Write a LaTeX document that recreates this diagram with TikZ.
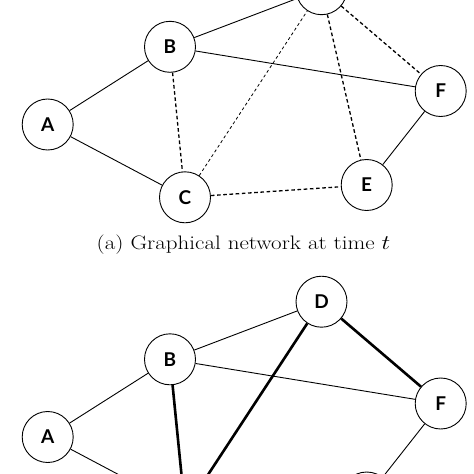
\documentclass[tikz,border=0pt]{standalone}
\usepackage{graphicx}
\usepackage{fontspec}
\setmainfont{Latin Modern Roman}
\newfontfamily\labelfont{Lato}
\begin{document}
\begin{tikzpicture}[x=1pt,y=1pt,yscale=-1,xscale=1,
	vertex/.style={draw,circle,line width=0.9,minimum size=51,inner sep=0,font=\labelfont\bfseries\fontsize{19}{19}\selectfont},
	link/.style={line width=0.9},
	hot/.style={line width=2.6},
	gone/.style={line width=1.3,dash pattern={on 3.6pt off 2.6pt}},
	faint/.style={line width=0.8,dash pattern={on 3pt off 2.6pt}}]
	\useasboundingbox (0,0) rectangle (474,474);
	\clip (0,0) rectangle (474,474);
	
	%Graph at time t
	\node [vertex] (a1) at (47.7,124.5) {A};
	\node [vertex] (b1) at (170,46.8) {B};
	\node [vertex] (c1) at (185,197.3) {C};
	\node [vertex] (d1) at (321.5,-10.8) {D};
	\node [vertex] (e1) at (366.7,185) {E};
	\node [vertex] (f1) at (440.7,91) {F};
	\draw [link] (a1) -- (b1);
	\draw [link] (a1) -- (c1);
	\draw [link] (b1) -- (d1);
	\draw [link] (b1) -- (f1);
	\draw [link] (e1) -- (f1);
	\draw [gone] (b1) -- (c1);
	\draw [gone] (c1) -- (e1);
	\draw [gone] (d1) -- (e1);
	\draw [gone] (d1) -- (f1);
	\draw [faint] (c1) -- (d1);
	
	% Caption
	\node [font=\fontsize{19.5}{19.5}\selectfont] (cap) at (243.5,244.5) {\scalebox{1.18}[1]{(a) Graphical network at time $t$}};
	
	%Graph at next step
	\node [vertex] (a2) at (47.7,437) {A};
	\node [vertex] (b2) at (170,359.3) {B};
	\node [vertex] (c2) at (185,509.8) {C};
	\node [vertex] (d2) at (321.5,301.7) {D};
	\node [vertex] (e2) at (366.7,497.5) {E};
	\node [vertex] (f2) at (440.7,403.5) {F};
	\draw [link] (a2) -- (b2);
	\draw [link] (a2) -- (c2);
	\draw [link] (b2) -- (d2);
	\draw [link] (b2) -- (f2);
	\draw [link] (e2) -- (f2);
	\draw [hot] (b2) -- (c2);
	\draw [hot] (c2) -- (d2);
	\draw [hot] (d2) -- (f2);
	
\end{tikzpicture}
\end{document}
